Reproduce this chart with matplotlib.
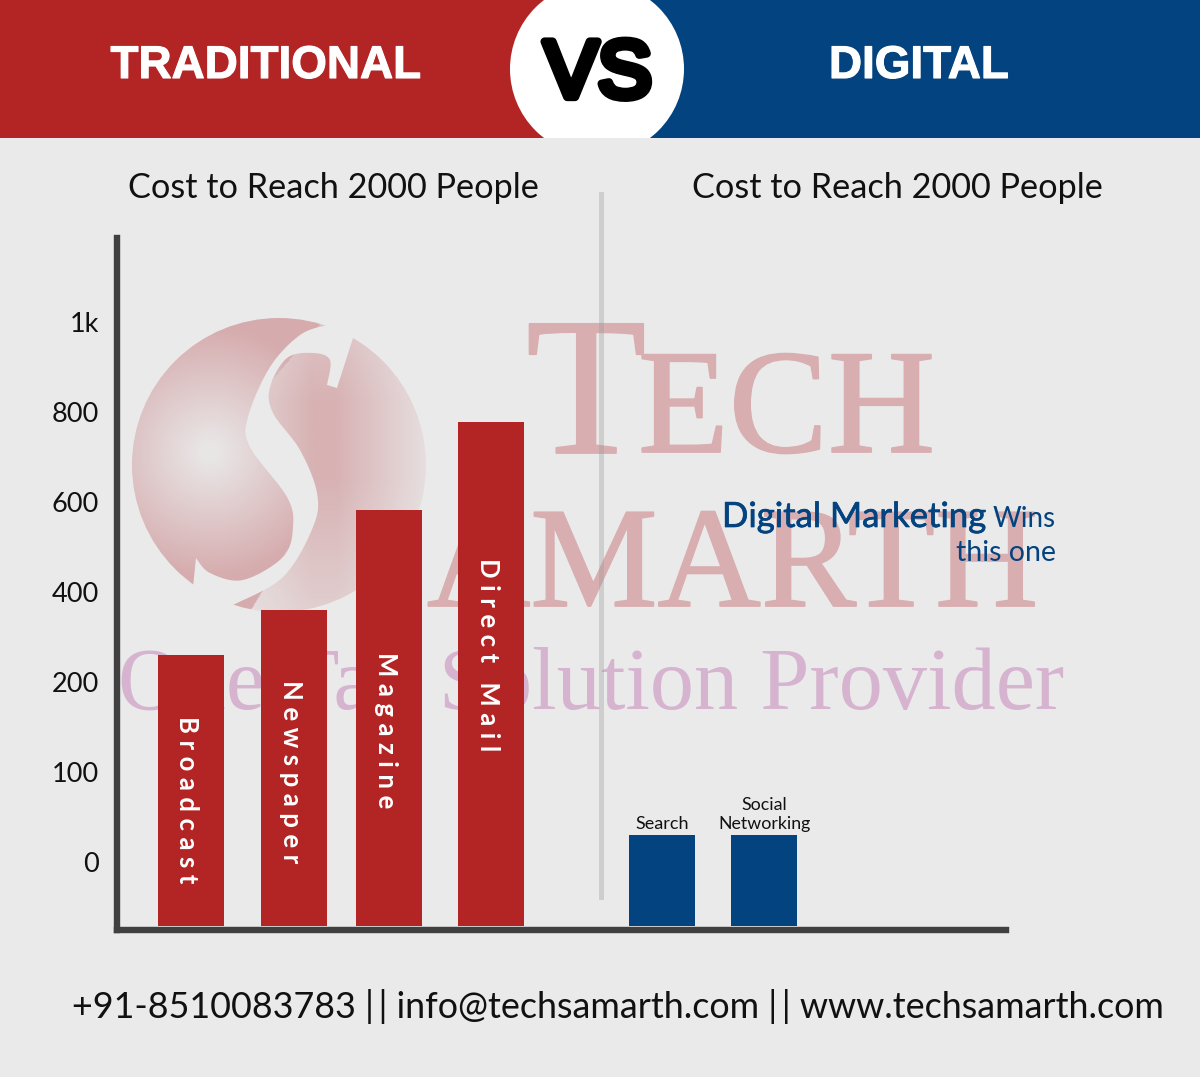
import matplotlib
matplotlib.use("Agg")
import matplotlib.pyplot as plt
from matplotlib.patches import Circle, Polygon, Rectangle
import matplotlib.patheffects as pe
import numpy as np

trad_names = ["Broadcast", "Newspaper", "Magazine", "Direct Mail"]
trad_values = [260, 360, 582, 778]
dig_names = ["Search", "Social\nNetworking"]
dig_values = [30, 30]
tick_values = [0, 100, 200, 400, 600, 800, 1000]
tick_labels = ["0", "100", "200", "400", "600", "800", "1k"]

# layout, in picture pixels
W, H = 1200, 1080
trad_x = [190.5, 294, 389, 491]
dig_x = [662, 764]
label_gap = [61, 70, 142, 136]
BAR_W = 66
BASE = -72

BG = "#eaeaea"
RED = "#b32524"
BLUE = "#03437f"
AXIS = "#404040"
SANS = ["Lato", "DejaVu Sans"]
SERIF = ["Liberation Serif", "DejaVu Serif"]

# the tick spacing is even but the steps are not: 0, 100, 200, 400...
knots_val = [-100, 0, 100, 200, 400, 600, 800, 1000, 1400]
knots_pos = [-1, 0, 1, 2, 3, 4, 5, 6, 8]


def forward(v):
    return np.interp(v, knots_val, knots_pos)


def inverse(p):
    return np.interp(p, knots_pos, knots_val)


def smooth(points, n=12):
    """Catmull-Rom through a few points, used for the logo outline"""
    p = np.array(points, dtype=float)
    p = np.vstack([p[0], p, p[-1]])
    out = []
    for i in range(1, len(p) - 2):
        for t in np.linspace(0, 1, n, endpoint=False):
            out.append(0.5 * (2 * p[i] + (p[i + 1] - p[i - 1]) * t
                              + (2 * p[i - 1] - 5 * p[i] + 4 * p[i + 1] - p[i + 2]) * t ** 2
                              + (3 * p[i] - p[i - 1] - 3 * p[i + 1] + p[i + 2]) * t ** 3))
    out.append(p[-2])
    return np.array(out)


def spaced(s):
    return "\u2009\u2009".join(s)


def draw_logo(ax):
    cx, cy, r = 279, 465, 147
    xs, ys = np.meshgrid(np.arange(cx - r, cx + r + 1), np.arange(cy - r, cy + r + 1))
    split = np.interp(ys, [318, 400, 440, 500, 530, 612], [325, 255, 262, 295, 300, 250])
    left = np.clip(np.hypot(xs - 210, ys - 452) / 125, 0.08, 1.0)
    right = np.clip(1.0 - np.abs(xs - 325) / 125, 0.08, 0.9) * np.clip(1.15 - np.abs(ys - 440) / 260, 0, 1)
    dark = np.where(xs < split, left, right)
    rgba = np.zeros(xs.shape + (4,))
    rgba[..., 0] = 234 / 255 - dark * 20 / 255
    rgba[..., 1] = 234 / 255 - dark * 62 / 255
    rgba[..., 2] = 234 / 255 - dark * 60 / 255
    rgba[..., 3] = 1.0
    im = ax.imshow(rgba, extent=(cx - r, cx + r, cy + r, cy - r), zorder=1, interpolation="bilinear")
    im.set_clip_path(Circle((cx, cy), r, transform=ax.transData))

    # the S swoosh, points from the reference in pixels
    left_edge = [(327, 325), (300, 335), (270, 367), (248, 417), (250, 447), (287, 497), (293, 527),
                 (283, 557), (243, 580), (210, 573), (196, 558)]
    right_edge = [(233, 605), (283, 577), (313, 527), (317, 493), (300, 450), (273, 413), (270, 387),
                  (287, 358), (313, 353), (330, 360), (327, 385)]
    outline = np.vstack([smooth(left_edge), [(193, 587), (205, 625)], smooth(right_edge),
                         [(337, 388), (353, 338), (345, 320)]])
    ax.add_patch(Polygon(outline, closed=True, fc=BG, ec="none", zorder=2))


fig = plt.figure(figsize=(W / 100, H / 100), dpi=100, facecolor="white")

# full-picture layer in pixel coordinates for header and watermark
bg = fig.add_axes([0, 0, 1, 1], zorder=0)
bg.set_xlim(0, W)
bg.set_ylim(H, 0)
bg.axis("off")
bg.add_patch(Rectangle((0, 138), W, H - 141, fc=BG, ec="none", zorder=0))
bg.add_patch(Rectangle((0, 0), 600, 138, fc=RED, ec="none", zorder=5))
bg.add_patch(Rectangle((600, 0), 600, 138, fc=BLUE, ec="none", zorder=5))
circle = Circle((597, 69), 87, fc="white", ec="none", zorder=6)
bg.add_patch(circle)
circle.set_clip_path(Rectangle((0, 0), W, 138, transform=bg.transData))

draw_logo(bg)
bg.set_xlim(0, W)
bg.set_ylim(H, 0)
bg.set_aspect("auto")

wm_red = "#d8aeb0"
wm_pur = "#d6b4d0"
wm_stroke = [pe.withStroke(linewidth=1.3, foreground=wm_red)]
bg.text(526, 453, "T", family=SERIF, fontsize=142, color=wm_red, zorder=3, path_effects=wm_stroke)
bg.text(638, 452, "ECH", family=SERIF, fontsize=107, color=wm_red, zorder=3, path_effects=wm_stroke)
bg.text(427, 606, "AMARTH", family=SERIF, fontsize=103, color=wm_red, zorder=3, path_effects=wm_stroke)
bg.text(118, 709, "One Tap Solution Provider", family=SERIF, fontsize=63.5, color=wm_pur, zorder=3)
bg.add_patch(Rectangle((599, 192), 5, 708, fc="#9a9a9a", ec="none", alpha=0.35, zorder=4))

# header
head_stroke = [pe.withStroke(linewidth=0.8, foreground="white")]
bg.text(266, 66, "TRADITIONAL", family=["Liberation Sans"], fontweight="bold", fontsize=33,
        color="white", ha="center", va="center", zorder=7, path_effects=head_stroke)
bg.text(919, 66, "DIGITAL", family=["Liberation Sans"], fontweight="bold", fontsize=33,
        color="white", ha="center", va="center", zorder=7, path_effects=head_stroke)
bg.text(598, 76, "VS", family=["Liberation Sans"], fontsize=58, color="black",
        ha="center", va="center", zorder=7,
        path_effects=[pe.withStroke(linewidth=6, foreground="black")])

# subtitles and notes
bg.text(333, 188, "Cost to Reach 2000 People", family=SANS, fontsize=24.7, color="#111111",
        ha="center", va="center", zorder=7)
bg.text(897, 188, "Cost to Reach 2000 People", family=SANS, fontsize=24.7, color="#111111",
        ha="center", va="center", zorder=7)
bg.text(722, 527, "Digital Marketing", family=SANS, fontsize=25, color=BLUE, ha="left", zorder=7,
        path_effects=[pe.withStroke(linewidth=0.5, foreground=BLUE)])
bg.text(1056, 527, "Wins", family=SANS, fontsize=20, color=BLUE, ha="right", zorder=7)
bg.text(1056, 561, "this one", family=SANS, fontsize=20.5, color=BLUE, ha="right", zorder=7)

# footer
bg.text(618, 1007, "+91-8510083783 |\u2009| info@techsamarth.com |\u2009| www.techsamarth.com", family=SANS,
        fontsize=25.8, color="#111111", ha="center", va="center", zorder=7)

# chart axes, xlim follows picture pixels
ax = fig.add_axes([117 / W, 1 - 930 / H, (1006 - 117) / W, (930 - 238) / H], zorder=1)
ax.patch.set_alpha(0)
ax.set_xlim(117, 1006)
ax.set_yscale("function", functions=(forward, inverse))
ax.set_ylim(-76, 1186)
ax.set_yticks(tick_values)
ax.set_yticklabels(tick_labels, family=SANS, fontsize=19.5, color="#111111")
ax.yaxis.set_minor_locator(plt.NullLocator())
ax.tick_params(axis="y", length=0, pad=13)
ax.set_xticks([])
for side in ["top", "right"]:
    ax.spines[side].set_visible(False)
for side in ["left", "bottom"]:
    ax.spines[side].set_color(AXIS)
    ax.spines[side].set_linewidth(4.6)

ax.bar(trad_x, np.array(trad_values) - BASE, bottom=BASE, width=BAR_W, color=RED)
ax.bar(dig_x, np.array(dig_values) - BASE, bottom=BASE, width=BAR_W, color=BLUE)

for x, v, name, gap in zip(trad_x, trad_values, trad_names, label_gap):
    # gap from the bar top differs per label in the reference
    ax.annotate(spaced(name), (x, v), xytext=(-2.2, -gap * 0.72), textcoords="offset points",
                rotation=-90, ha="center", va="top", family=SANS, fontsize=18.5,
                fontweight="bold", color="white")
for x, v, name, size in zip(dig_x, dig_values, dig_names, [13, 12.8]):
    ax.annotate(name, (x, v), xytext=(0, 2), textcoords="offset points", ha="center", va="bottom",
                family=SANS, fontsize=size, color="#111111", linespacing=1.25, multialignment="center")

fig.savefig("out.png", dpi=100)
